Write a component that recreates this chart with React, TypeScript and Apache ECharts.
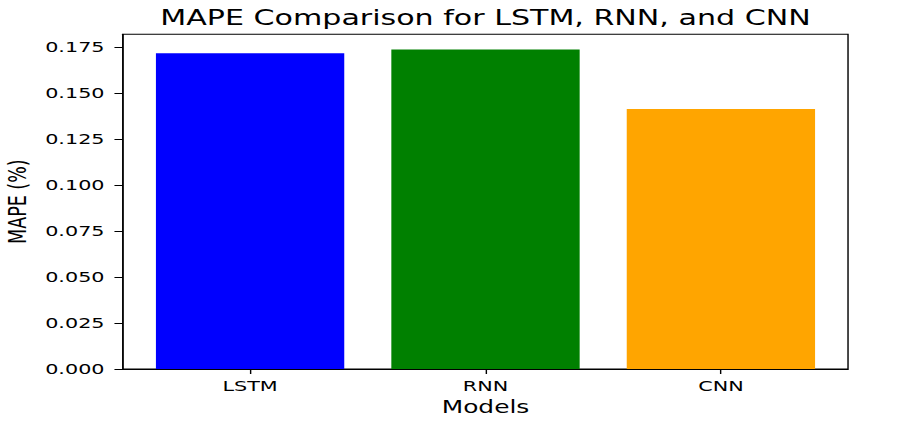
import React, { useEffect, useRef } from "react";
import * as echarts from "echarts";

const categories = ["LSTM", "RNN", "CNN"];
const mapeValues = [0.1716, 0.1737, 0.1413];
const barColors = ["#0000ff", "#008000", "#ffa500"];
const yTicks = [0, 0.025, 0.05, 0.075, 0.1, 0.125, 0.15, 0.175];
const xTicks = [0, 1, 2];

const STRETCH = 1.42;
const W = 645;
const H = 422;
const FONT = "DejaVu Sans";

export default function App() {
  const ref = useRef<HTMLDivElement>(null);
  useEffect(() => {
    if (!ref.current) return;
    const chart = echarts.init(ref.current, undefined, { renderer: "svg" });
    const gridLeft = 86.6;
    const gridRight = 47.8;
    const gridTop = 34.3;
    const gridBottom = 53;
    const xMin = -0.54;
    const xMax = 2.54;
    const plotW = W - gridLeft - gridRight;
    const barW = (plotW / (xMax - xMin)) * 0.8;
    chart.setOption({
      animation: false,
      title: {
        text: "MAPE Comparison for LSTM, RNN, and CNN",
        left: gridLeft + plotW / 2,
        top: 7,
        textAlign: "center",
        padding: 0,
        textStyle: { fontFamily: FONT, fontSize: 21.2, fontWeight: "normal", color: "#000" },
      },
      grid: {
        left: gridLeft,
        right: gridRight,
        top: gridTop,
        bottom: gridBottom,
        containLabel: false,
        outerBoundsMode: "none",
        show: true,
        borderColor: "#000",
        borderWidth: 1,
        backgroundColor: "transparent",
      },
      xAxis: {
        type: "value",
        min: xMin,
        max: xMax,
        name: "Models",
        nameLocation: "middle",
        nameGap: 29,
        nameTextStyle: { fontFamily: FONT, fontSize: 17.5, color: "#000" },
        axisLine: { show: true, onZero: false, lineStyle: { color: "#000", width: 1 } },
        axisTick: { show: true, length: 5, customValues: xTicks, lineStyle: { color: "#000" } },
        axisLabel: {
          customValues: xTicks,
          margin: 9,
          fontFamily: FONT,
          fontSize: 14.6,
          color: "#000",
          formatter: (v: number) => categories[Math.round(v)] ?? "",
        },
        splitLine: { show: false },
      },
      yAxis: {
        type: "value",
        min: 0,
        max: 0.1819,
        name: "MAPE (%)",
        nameLocation: "middle",
        nameGap: 65,
        nameTextStyle: { fontFamily: FONT, fontSize: 17.5, color: "#000" },
        axisLine: { show: true, onZero: false, lineStyle: { color: "#000", width: 1 } },
        axisTick: { show: true, length: 6, customValues: yTicks, lineStyle: { color: "#000" } },
        axisLabel: {
          customValues: yTicks,
          margin: 13,
          fontFamily: FONT,
          fontSize: 14.6,
          color: "#000",
          formatter: (v: number) => v.toFixed(3),
        },
        splitLine: { show: false },
      },
      series: [
        {
          type: "bar",
          barWidth: barW,
          data: mapeValues.map((v, i) => ({ value: [i, v], itemStyle: { color: barColors[i] } })),
        },
      ],
    });
    return () => chart.dispose();
  }, []);
  return (
    <div
      ref={ref}
      style={{
        position: "absolute",
        left: 0,
        top: 0,
        width: W,
        height: H,
        transform: `scaleX(${STRETCH})`,
        transformOrigin: "0 0",
        background: "#fff",
      }}
    />
  );
}
